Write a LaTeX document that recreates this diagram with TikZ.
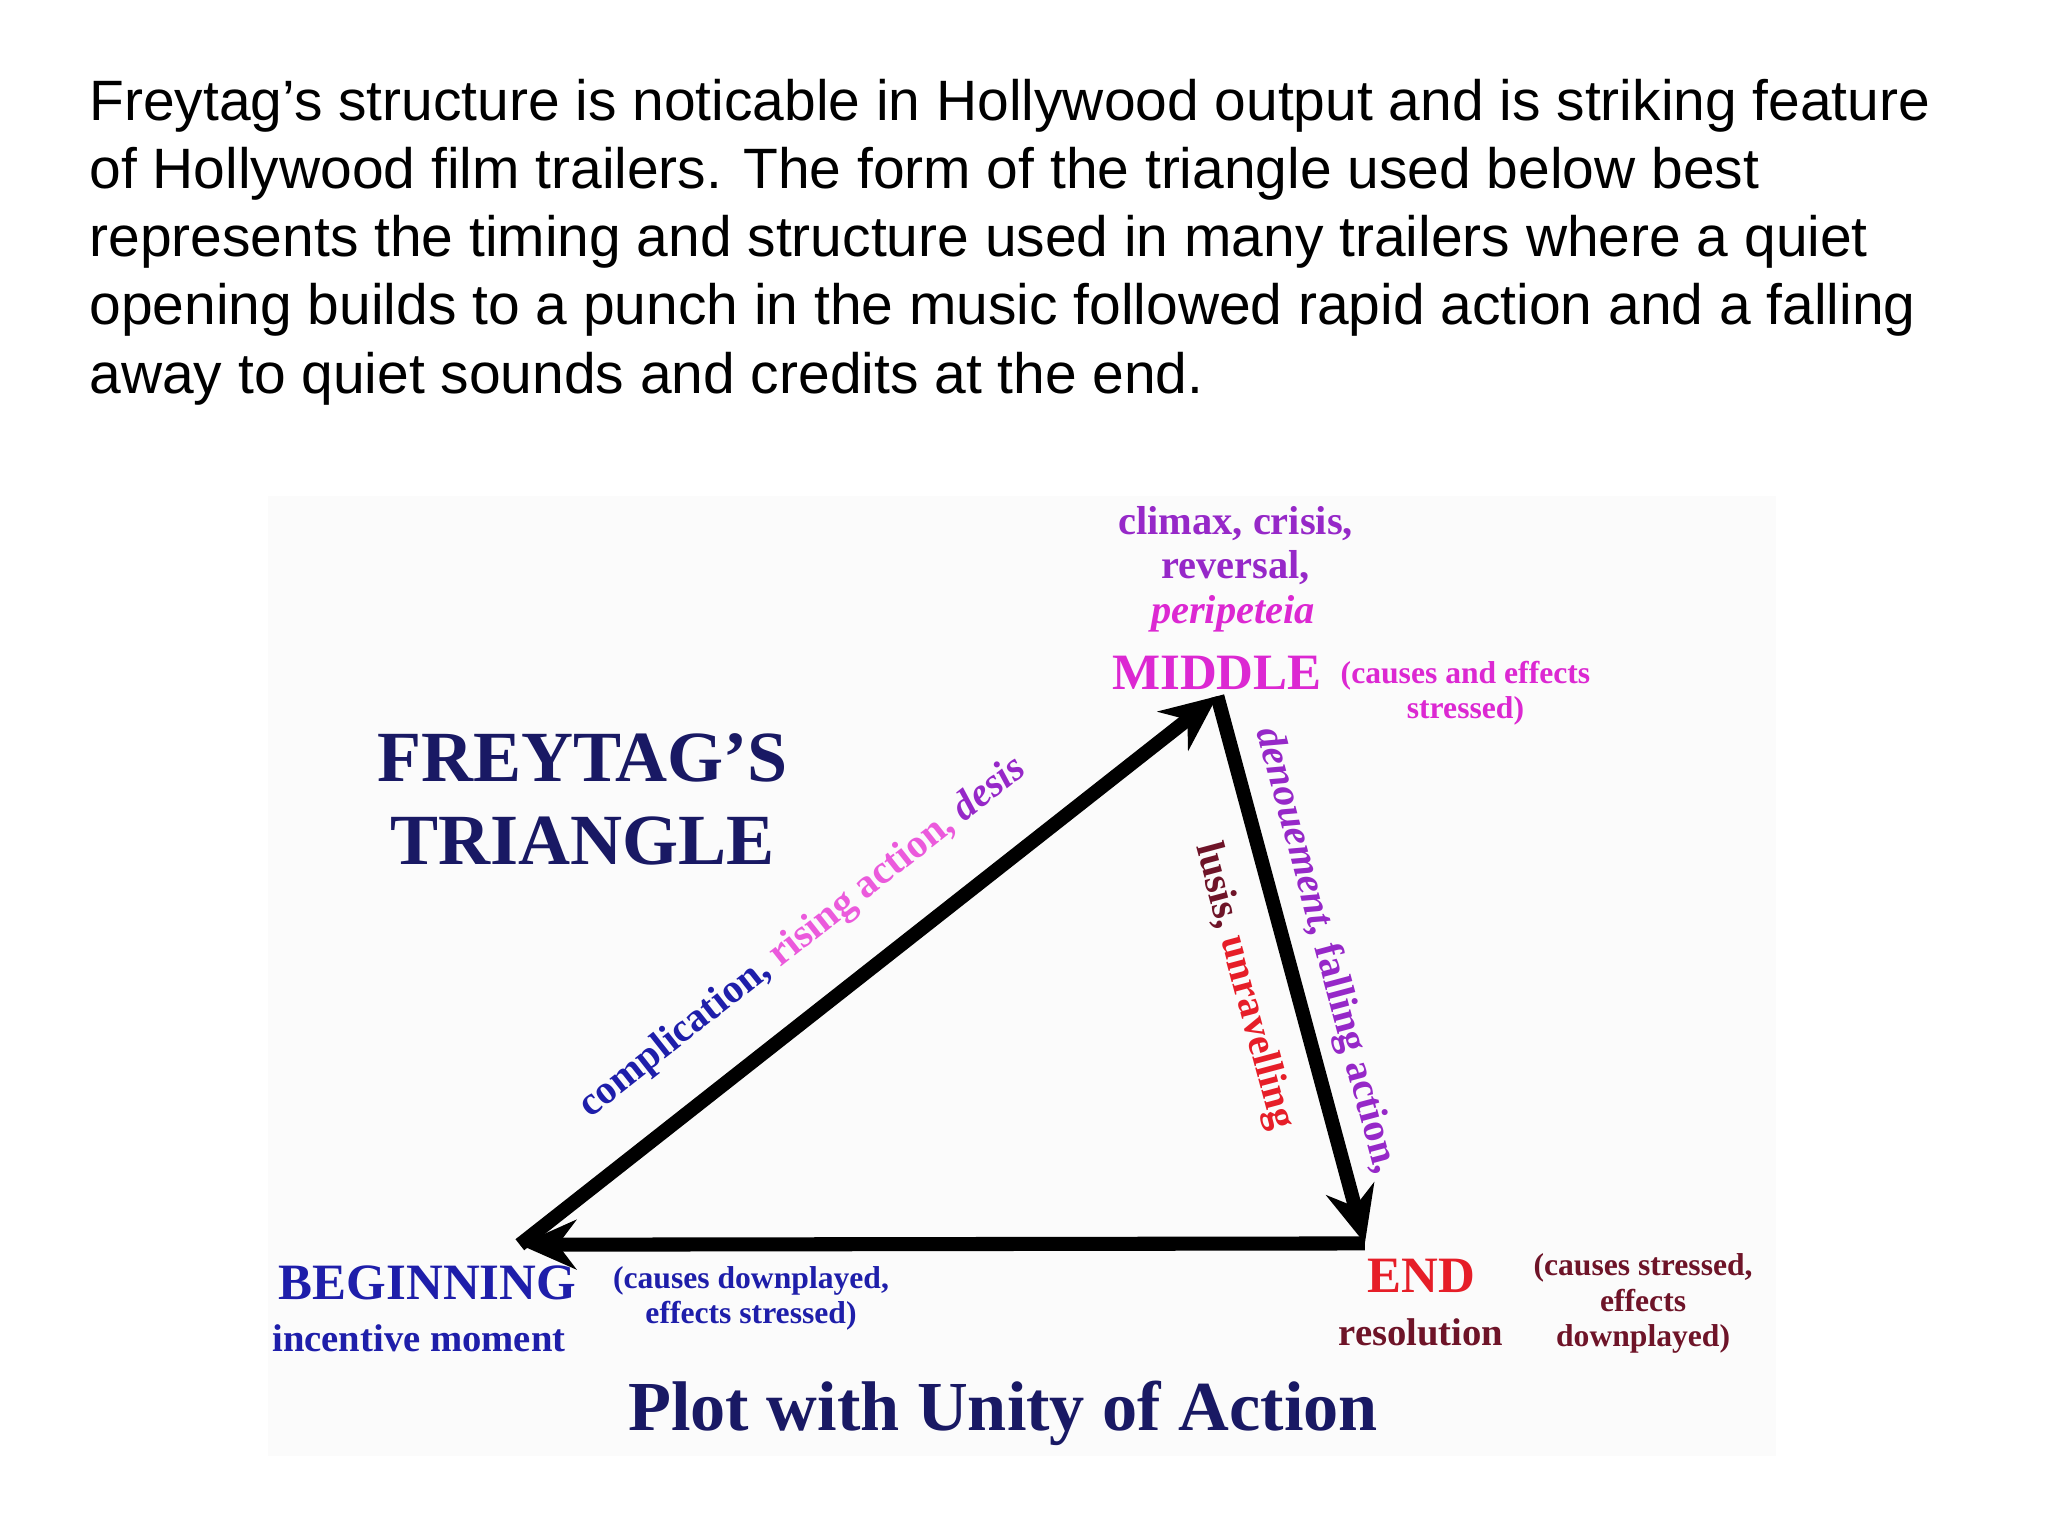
\documentclass[tikz,border=0pt]{standalone}
\usepackage{fontspec}
\setmainfont{Liberation Serif}
\newfontfamily\arialf{Liberation Sans}
\usetikzlibrary{arrows.meta}
\definecolor{navy}{RGB}{25,25,100}
\definecolor{dblue}{RGB}{30,30,170}
\definecolor{mag}{RGB}{220,40,210}
\definecolor{pink}{RGB}{235,90,220}
\definecolor{purp}{RGB}{150,40,200}
\definecolor{redd}{RGB}{230,30,40}
\definecolor{maroon}{RGB}{110,20,40}
\tikzset{edge/.style={line width=4pt,-{Stealth[length=16pt,width=14pt]}},
 lbl/.style={inner sep=0pt,font=\bfseries}}
\begin{document}
\begin{tikzpicture}[x=0.01306cm,y=-0.01306cm]
\useasboundingbox (0,0) rectangle (1568,1176);
\fill[white] (0,0) rectangle (1568,1176);
\fill[black!1.5] (205,380) rectangle (1360,1115);
\node[anchor=north west,inner sep=0pt,align=left,font=\arialf\fontsize{16.2}{19.4}\selectfont] (para) at (68,60)
{Freytag’s structure is noticable in Hollywood output and is striking feature\\
of Hollywood film trailers. The form of the triangle used below best\\
represents the timing and structure used in many trailers where a quiet\\
opening builds to a punch in the music followed rapid action and a falling\\
away to quiet sounds and credits at the end.};
\coordinate (B) at (398,953);
\coordinate (M) at (932,533);
\coordinate (E) at (1045,952);
\draw[edge] (B) -- (M);
\draw[edge] (M) -- (E);
\draw[edge] (E) -- (B);
% title
\node[lbl,navy,font=\bfseries\fontsize{20.5}{23.5}\selectfont,align=center] (t) at (446,612) {FREYTAG’S\\TRIANGLE};
\node[lbl,navy,font=\bfseries\fontsize{20}{22}\selectfont] (plot) at (768,1082) {Plot with Unity of Action};
% middle
\node[lbl,purp,font=\bfseries\fontsize{11.5}{12.5}\selectfont,align=center] (clim) at (946,418) {climax, crisis,\\reversal,};
\node[lbl,mag,font=\bfseries\itshape\fontsize{11.5}{13}\selectfont] (peri) at (944,470) {peripeteia};
\node[lbl,mag,font=\bfseries\fontsize{14.5}{16}\selectfont,anchor=west] (mid) at (851,515) {MIDDLE};
\node[lbl,mag,font=\bfseries\fontsize{9}{10}\selectfont,align=center] (mc) at (1122,531) {(causes and effects\\stressed)};
% beginning
\node[lbl,dblue,font=\bfseries\fontsize{14.5}{16}\selectfont,anchor=west] (beg) at (213,982) {BEGINNING};
\node[lbl,dblue,font=\bfseries\fontsize{11}{13}\selectfont,anchor=west] (inc) at (208,1025) {incentive moment};
\node[lbl,dblue,font=\bfseries\fontsize{9}{10}\selectfont,align=center] (bc) at (575,994) {(causes downplayed,\\effects stressed)};
% end
\node[lbl,redd,font=\bfseries\fontsize{14.5}{16}\selectfont] (end) at (1088,977) {END};
\node[lbl,maroon,font=\bfseries\fontsize{11}{13}\selectfont] (res) at (1088,1020) {resolution};
\node[lbl,maroon,font=\bfseries\fontsize{9}{10}\selectfont,align=center] (ec) at (1258,998) {(causes stressed,\\effects\\downplayed)};
% side labels
\node[lbl,rotate=38.3,font=\bfseries\fontsize{11.5}{13}\selectfont] (rise) at (615,718)
{\textcolor{dblue}{complication,} \textcolor{pink}{rising action,} \textcolor{purp}{\itshape desis}};
\node[lbl,rotate=-75,font=\bfseries\fontsize{11.5}{13}\selectfont] (fall) at (1015,728)
{\textcolor{purp}{\itshape denouement,} \textcolor{purp}{falling action,}};
\node[lbl,rotate=-75,font=\bfseries\fontsize{11.5}{13}\selectfont] (lus) at (952,755)
{\textcolor{maroon}{lusis,} \textcolor{redd}{unravelling}};
\end{tikzpicture}
\end{document}
